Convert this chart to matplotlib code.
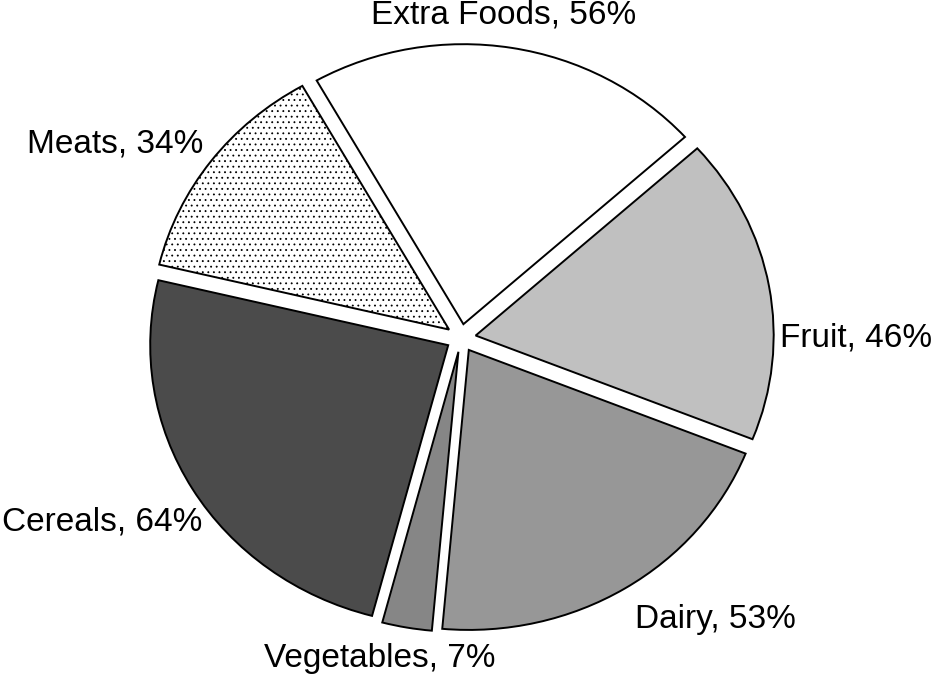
import matplotlib.pyplot as plt

plt.rcParams['font.family'] = ['Liberation Sans', 'DejaVu Sans']
plt.rcParams['hatch.linewidth'] = 0.6

labels = ['Extra Foods', 'Fruit', 'Dairy', 'Vegetables', 'Cereals', 'Meats']
percents = [56, 46, 53, 7, 64, 34]
colors = ['white', '#c0c0c0', '#979797', '#868686', '#4b4b4b', 'white']
hatches = ['', '', '', '', '', '...']

# label placement (data units, baseline anchored)
label_pos = [(0.144, 1.123), (1.070, -0.030), (0.584, -1.036),
             (-0.272, -1.175), (-1.540, -0.686), (-1.456, 0.664)]
label_ha = ['center', 'left', 'left', 'center', 'left', 'left']

fig = plt.figure(figsize=(9.32, 6.76), dpi=100)
ax = fig.add_axes([0, 0, 1, 1])

wedges, _ = ax.pie(percents, colors=colors, startangle=119.5, counterclock=False,
                   explode=[0.05] * len(percents),
                   wedgeprops=dict(edgecolor='black', linewidth=1.4))
for w, h in zip(wedges, hatches):
    if h:
        w.set_hatch(h)

for lab, p, (x, y), ha in zip(labels, percents, label_pos, label_ha):
    ax.text(x, y, f'{lab}, {p}%', ha=ha, va='baseline', fontsize=24)

ax.set_aspect('auto')
ax.set_xlim(-461 / 298, 471 / 298)
ax.set_ylim(-338 / 280, 338 / 280)
ax.axis('off')

fig.savefig('out.png', dpi=100, facecolor='white')
